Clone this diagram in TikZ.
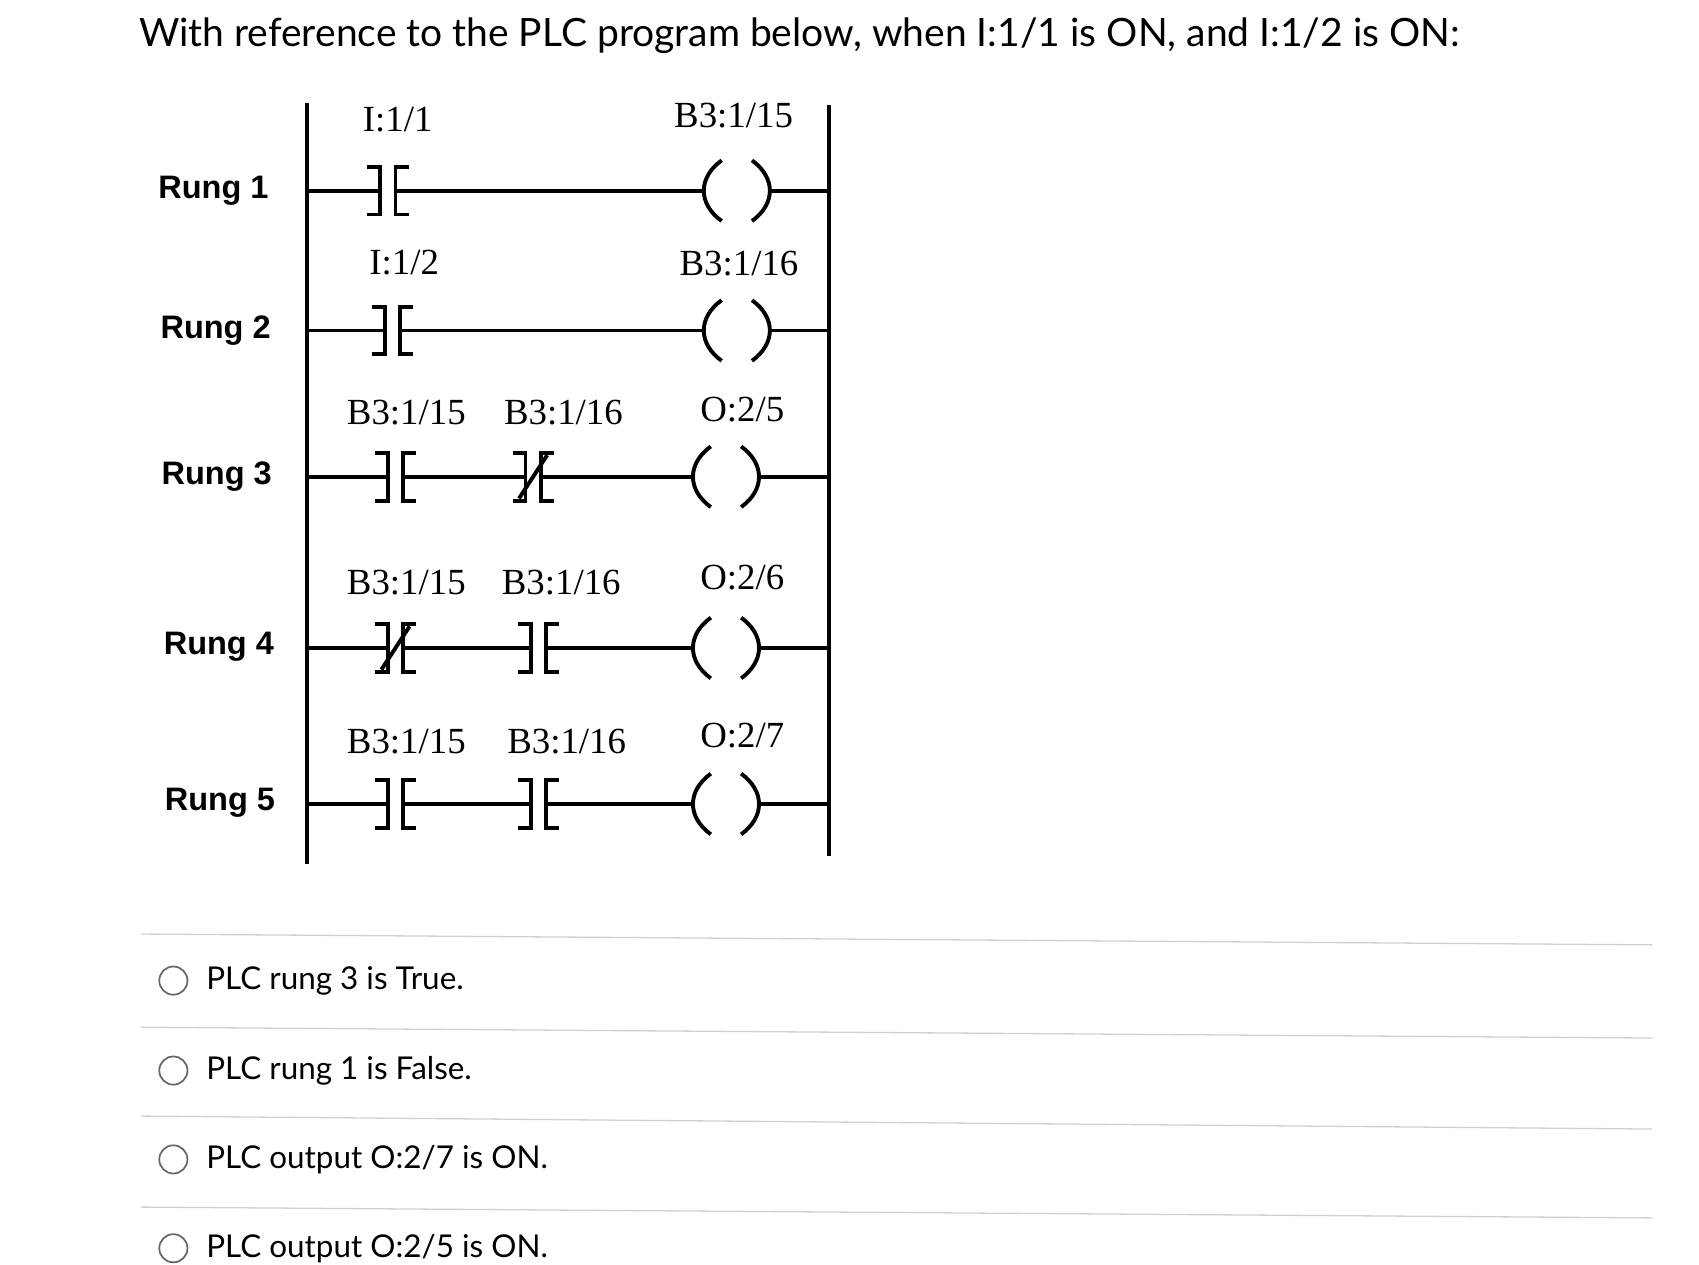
\documentclass[tikz,border=0pt]{standalone}
\usepackage{fontspec}
\setmainfont{Lato}
\newfontfamily\ser{Liberation Serif}
\newfontfamily\arl{Liberation Sans}
\begin{document}
\begin{tikzpicture}[x=0.5pt,y=-0.5pt,
  wire/.style={line width=1.8pt},
  lab/.style={font=\ser\fontsize{17}{17}\selectfont,inner sep=0pt},
  rl/.style={font=\arl\bfseries\fontsize{15}{15}\selectfont,inner sep=0pt},
  opt/.style={font=\fontsize{14.5}{14.5}\selectfont,anchor=west,inner sep=0pt},
  sep/.style={draw=black!18,line width=0.6pt},
  no/.pic={\draw[wire] (-19,-22)--(-7,-22)--(-7,22)--(-19,22);
           \draw[wire] (19,-22)--(7,-22)--(7,22)--(19,22);
           \coordinate (-in) at (-7,0); \coordinate (-out) at (7,0);},
  nc/.pic={\draw[wire] (-19,-22)--(-7,-22)--(-7,22)--(-19,22);
           \draw[wire] (19,-22)--(7,-22)--(7,22)--(19,22);
           \draw[wire] (-13,20)--(13,-20);
           \coordinate (-in) at (-7,0); \coordinate (-out) at (7,0);},
  coil/.pic={\draw[wire] (-14,-28) .. controls (-36,-12) and (-36,12) .. (-14,28);
             \draw[wire] (14,-28) .. controls (36,-12) and (36,12) .. (14,28);
             \coordinate (-in) at (-30,0); \coordinate (-out) at (30,0);}]
\useasboundingbox (0,0) rectangle (1568,1167);
\node[anchor=west,inner sep=0pt,font=\fontsize{18}{18}\selectfont] (title) at (128,33) {With reference to the PLC program below, when I:1/1 is ON, and I:1/2 is ON:};
% rails
\coordinate (lt) at (283,95); \coordinate (lb) at (283,797);
\coordinate (rt) at (765,97); \coordinate (rb) at (765,790);
\draw[wire] (lt)--(lb); \draw[wire] (rt)--(rb);
% rung 1
\node[rl] (r1) at (197,176) {Rung 1};
\coordinate (l1) at (283,176); \coordinate (e1) at (765,176);
\pic (a1) at (358,176) {no}; \pic (c1) at (680,176) {coil};
\draw[wire] (l1)--(a1-in) (a1-out)--(c1-in) (c1-out)--(e1);
\node[lab] (ta1) at (367,110) {I:1/1}; \node[lab] (tc1) at (677,107) {B3:1/15};
% rung 2
\node[rl] (r2) at (199,305) {Rung 2};
\coordinate (l2) at (283,305); \coordinate (e2) at (765,305);
\pic (a2) at (362,305) {no}; \pic (c2) at (680,305) {coil};
\draw[wire] (l2)--(a2-in) (a2-out)--(c2-in) (c2-out)--(e2);
\node[lab] (ta2) at (373,242) {I:1/2}; \node[lab] (tc2) at (682,243) {B3:1/16};
% rung 3
\node[rl] (r3) at (200,440) {Rung 3};
\coordinate (l3) at (283,440); \coordinate (e3) at (765,440);
\pic (a3) at (365,440) {no}; \pic (b3) at (492,440) {nc}; \pic (c3) at (670,440) {coil};
\draw[wire] (l3)--(a3-in) (a3-out)--(b3-in) (b3-out)--(c3-in) (c3-out)--(e3);
\node[lab] (ta3) at (375,381) {B3:1/15}; \node[lab] (tb3) at (520,381) {B3:1/16}; \node[lab] (tc3) at (685,378) {O:2/5};
% rung 4
\node[rl] (r4) at (202,597) {Rung 4};
\coordinate (l4) at (283,598); \coordinate (e4) at (765,598);
\pic (a4) at (365,598) {nc}; \pic (b4) at (497,598) {no}; \pic (c4) at (670,598) {coil};
\draw[wire] (l4)--(a4-in) (a4-out)--(b4-in) (b4-out)--(c4-in) (c4-out)--(e4);
\node[lab] (ta4) at (375,538) {B3:1/15}; \node[lab] (tb4) at (518,538) {B3:1/16}; \node[lab] (tc4) at (685,533) {O:2/6};
% rung 5
\node[rl] (r5) at (203,741) {Rung 5};
\coordinate (l5) at (283,742); \coordinate (e5) at (765,742);
\pic (a5) at (365,742) {no}; \pic (b5) at (497,742) {no}; \pic (c5) at (670,742) {coil};
\draw[wire] (l5)--(a5-in) (a5-out)--(b5-in) (b5-out)--(c5-in) (c5-out)--(e5);
\node[lab] (ta5) at (375,684) {B3:1/15}; \node[lab] (tb5) at (523,684) {B3:1/16}; \node[lab] (tc5) at (685,679) {O:2/7};
% separators
\draw[sep] (130,862)--(1525,872);
\draw[sep] (130,948)--(1525,958);
\draw[sep] (130,1030)--(1525,1042);
\draw[sep] (130,1114)--(1525,1124);
% options
\tikzset{rad/.style={circle,draw=black!60,line width=0.8pt,minimum size=13pt,inner sep=0pt}}
\node[rad] (o1) at (160,905) {}; \node[opt] (t1) at (190,905) {PLC rung 3 is True.};
\node[rad] (o2) at (160,988) {}; \node[opt] (t2) at (190,988) {PLC rung 1 is False.};
\node[rad] (o3) at (160,1070) {}; \node[opt] (t3) at (190,1070) {PLC output O:2/7 is ON.};
\node[rad] (o4) at (160,1152) {}; \node[opt] (t4) at (190,1152) {PLC output O:2/5 is ON.};
\end{tikzpicture}
\end{document}
